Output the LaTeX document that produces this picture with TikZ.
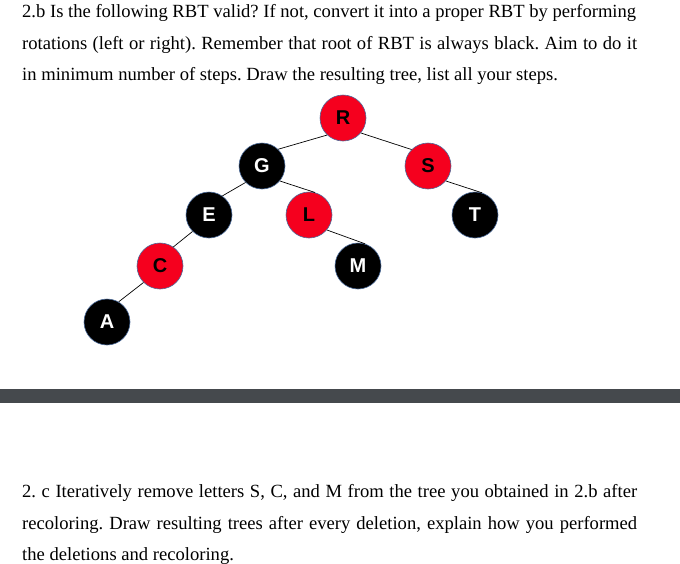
\documentclass[tikz,border=0pt]{standalone}
\usepackage{fontspec}
\setmainfont{Liberation Serif}
\newfontfamily\nodefont{Liberation Sans}
\definecolor{rbred}{HTML}{F5001E}
\definecolor{rim}{HTML}{4A6A9A}
\definecolor{barc}{HTML}{45494D}
\frenchspacing
\begin{document}
\begin{tikzpicture}[x=1pt,y=-1pt,
  rbnode/.style={circle,draw=rim,line width=0.6pt,minimum size=46pt,inner sep=0pt,font=\nodefont\bfseries\fontsize{20}{20}\selectfont},
  rn/.style={rbnode,fill=rbred,text=black},
  bn/.style={rbnode,fill=black,text=white},
  edge/.style={draw=black,line width=0.7pt},
  txt/.style={anchor=base west,inner sep=0pt,font=\fontsize{18.6}{20}\selectfont}]
\useasboundingbox (0,0) rectangle (680,563);
\fill[barc] (0,389) rectangle (680,403);
\node[txt] (t1) at (22,17) {\makebox[614pt][s]{2.b Is the following RBT valid? If not, convert it into a proper RBT by performing}};
\node[txt] (t2) at (22,49) {\makebox[615pt][s]{rotations (left or right). Remember that root of RBT is always black. Aim to do it}};
\node[txt] (t3) at (22,80) {in minimum number of steps. Draw the resulting tree, list all your steps.};
\node[txt] (b1) at (22,497) {\makebox[615pt][s]{2. c Iteratively remove letters S, C, and M from the tree you obtained in 2.b after}};
\node[txt] (b2) at (22,529) {\makebox[615pt][s]{recoloring. Draw resulting trees after every deletion, explain how you performed}};
\node[txt] (b3) at (22,560) {the deletions and recoloring.};
\node[rn] (R) at (343,118) {R};
\node[bn] (G) at (262,166) {G};
\node[rn] (S) at (428,166) {S};
\node[bn] (E) at (209,215) {E};
\node[rn] (L) at (309,215) {L};
\node[bn] (T) at (475,215) {T};
\node[rn] (C) at (160,266) {C};
\node[bn] (M) at (358,266) {M};
\node[bn] (A) at (107,322) {A};
\draw[edge] (R.227) -- (G.46);
\draw[edge] (R.320) -- (S.135);
\draw[edge] (G.225) -- (E.55);
\draw[edge] (G.320) -- (L.75);
\draw[edge] (S.320) -- (T.72);
\draw[edge] (E.225) -- (C.55);
\draw[edge] (L.320) -- (M.72);
\draw[edge] (C.225) -- (A.60);
\end{tikzpicture}
\end{document}
